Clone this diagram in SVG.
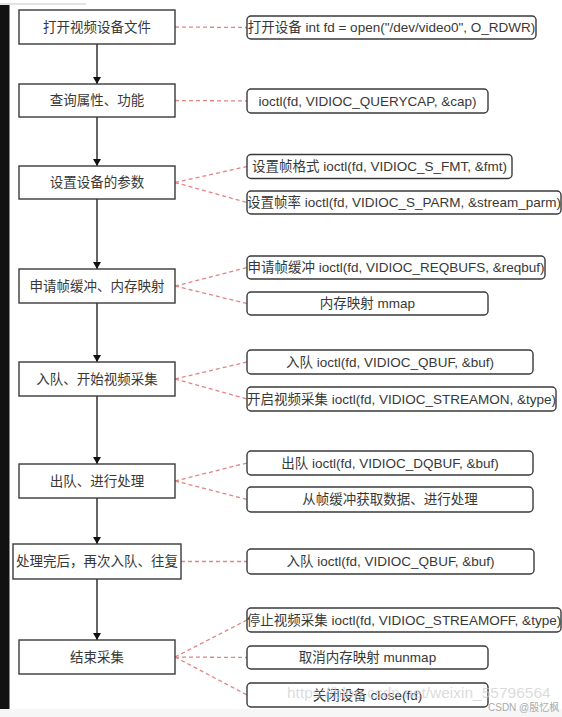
<svg xmlns="http://www.w3.org/2000/svg" width="562" height="717" viewBox="0 0 562 717">
<defs>
<marker id="arr" markerWidth="8" markerHeight="10" refX="7" refY="4" orient="auto" markerUnits="userSpaceOnUse">
<path d="M0,0 L7,4 L0,8 Z" fill="#111"/>
</marker>
</defs>
<style>
.box{fill:#fff;stroke:#3a3a3a;stroke-width:1.4}
.rbox{fill:#fff;stroke:#3a3a3a;stroke-width:1.4}
.t{font-family:"Liberation Sans","Noto Sans CJK SC",sans-serif;font-size:13.5px;fill:#383838;text-anchor:middle;dominant-baseline:central}
.dash{stroke:#e08585;stroke-width:1.3;stroke-dasharray:4 3;fill:none}
.flow{stroke:#111;stroke-width:1.3;fill:none}
</style>
<rect x="0" y="0" width="562" height="717" fill="#fff"/>
<rect x="0" y="3" width="86" height="2" fill="#e2e2e2"/>
<rect x="0" y="5" width="9.5" height="704" fill="#111"/>
<rect x="0" y="709" width="562" height="8" fill="#f6f6f6"/>

<g id="connectors">
<line class="flow" x1="97" y1="44" x2="97" y2="84" marker-end="url(#arr)"/>
<line class="flow" x1="97" y1="117" x2="97" y2="166" marker-end="url(#arr)"/>
<line class="flow" x1="97" y1="199" x2="97" y2="269" marker-end="url(#arr)"/>
<line class="flow" x1="97" y1="303" x2="97" y2="362" marker-end="url(#arr)"/>
<line class="flow" x1="97" y1="396" x2="97" y2="464" marker-end="url(#arr)"/>
<line class="flow" x1="97" y1="498" x2="97" y2="544" marker-end="url(#arr)"/>
<line class="flow" x1="97" y1="579" x2="97" y2="640" marker-end="url(#arr)"/>
<line class="dash" x1="175" y1="27" x2="247" y2="27.5"/>
<line class="dash" x1="175" y1="100.5" x2="247" y2="101"/>
<line class="dash" x1="175" y1="182.5" x2="247" y2="166.5"/>
<line class="dash" x1="175" y1="182.5" x2="247" y2="202.5"/>
<line class="dash" x1="175" y1="286" x2="247" y2="267.5"/>
<line class="dash" x1="175" y1="286" x2="247" y2="303.5"/>
<line class="dash" x1="175" y1="379" x2="247" y2="362"/>
<line class="dash" x1="175" y1="379" x2="247" y2="399"/>
<line class="dash" x1="175" y1="481" x2="247" y2="463"/>
<line class="dash" x1="175" y1="481" x2="247" y2="499.5"/>
<line class="dash" x1="181" y1="561.5" x2="247" y2="561.5"/>
<line class="dash" x1="175" y1="657" x2="247" y2="620"/>
<line class="dash" x1="175" y1="657" x2="247" y2="657.5"/>
<line class="dash" x1="175" y1="657" x2="247" y2="695"/>
</g>

<g id="n1"><rect class="box" x="19" y="10" width="156" height="34"/><text class="t" x="97" y="27">打开视频设备文件</text></g>
<g id="n2"><rect class="box" x="19" y="84" width="156" height="33"/><text class="t" x="97" y="100.5">查询属性、功能</text></g>
<g id="n3"><rect class="box" x="19" y="166" width="156" height="33"/><text class="t" x="97" y="182.5">设置设备的参数</text></g>
<g id="n4"><rect class="box" x="19" y="269" width="156" height="34"/><text class="t" x="97" y="286">申请帧缓冲、内存映射</text></g>
<g id="n5"><rect class="box" x="19" y="362" width="156" height="34"/><text class="t" x="97" y="379">入队、开始视频采集</text></g>
<g id="n6"><rect class="box" x="19" y="464" width="156" height="34"/><text class="t" x="97" y="481">出队、进行处理</text></g>
<g id="n7"><rect class="box" x="13" y="544" width="168" height="35"/><text class="t" x="97" y="561.5">处理完后，再次入队、往复</text></g>
<g id="n8"><rect class="box" x="19" y="640" width="156" height="34"/><text class="t" x="97" y="657">结束采集</text></g>

<g id="r1"><rect class="rbox" x="247" y="16" width="289" height="23" rx="4"/><text class="t" x="391.5" y="27.5">打开设备 int fd = open("/dev/video0", O_RDWR)</text></g>
<g id="r2"><rect class="rbox" x="247" y="89" width="241" height="24" rx="4"/><text class="t" x="367.5" y="101">ioctl(fd, VIDIOC_QUERYCAP, &amp;cap)</text></g>
<g id="r3a"><rect class="rbox" x="247" y="154.5" width="265" height="24" rx="4"/><text class="t" x="379.5" y="166.5">设置帧格式 ioctl(fd, VIDIOC_S_FMT, &amp;fmt)</text></g>
<g id="r3b"><rect class="rbox" x="247" y="191" width="314" height="23" rx="4"/><text class="t" x="404" y="202.5">设置帧率 ioctl(fd, VIDIOC_S_PARM, &amp;stream_parm)</text></g>
<g id="r4a"><rect class="rbox" x="247" y="256" width="298" height="23" rx="4"/><text class="t" x="396" y="267.5">申请帧缓冲 ioctl(fd, VIDIOC_REQBUFS, &amp;reqbuf)</text></g>
<g id="r4b"><rect class="rbox" x="247" y="292" width="241" height="23" rx="4"/><text class="t" x="367.5" y="303.5">内存映射 mmap</text></g>
<g id="r5a"><rect class="rbox" x="247" y="350" width="286" height="24" rx="4"/><text class="t" x="390" y="362">入队 ioctl(fd, VIDIOC_QBUF, &amp;buf)</text></g>
<g id="r5b"><rect class="rbox" x="247" y="387" width="309" height="24" rx="4"/><text class="t" x="401.5" y="399">开启视频采集 ioctl(fd, VIDIOC_STREAMON, &amp;type)</text></g>
<g id="r6a"><rect class="rbox" x="247" y="451" width="286" height="24" rx="4"/><text class="t" x="390" y="463">出队 ioctl(fd, VIDIOC_DQBUF, &amp;buf)</text></g>
<g id="r6b"><rect class="rbox" x="247" y="487" width="286" height="25" rx="4"/><text class="t" x="390" y="499.5">从帧缓冲获取数据、进行处理</text></g>
<g id="r7"><rect class="rbox" x="247" y="549" width="287" height="25" rx="4"/><text class="t" x="390.5" y="561.5">入队 ioctl(fd, VIDIOC_QBUF, &amp;buf)</text></g>
<g id="r8a"><rect class="rbox" x="247" y="608" width="314" height="24" rx="4"/><text class="t" x="404" y="620">停止视频采集 ioctl(fd, VIDIOC_STREAMOFF, &amp;type)</text></g>
<g id="r8b"><rect class="rbox" x="247" y="646" width="241" height="23" rx="4"/><text class="t" x="367.5" y="657.5">取消内存映射 munmap</text></g>
<g id="r8c"><rect class="rbox" x="247" y="683" width="241" height="24" rx="4"/><text class="t" x="367.5" y="695">关闭设备 close(fd)</text></g>

<g id="watermark">
<text x="287" y="698" font-family="Liberation Sans, sans-serif" font-size="15.5" fill="#cccccc" fill-opacity="0.7">https://blog.csdn.net/weixin_55796564</text>
<text x="488" y="711" font-family="Liberation Sans, Noto Sans CJK SC, sans-serif" font-size="10" fill="#aaaaaa">CSDN @殷忆枫</text>
</g>
</svg>
